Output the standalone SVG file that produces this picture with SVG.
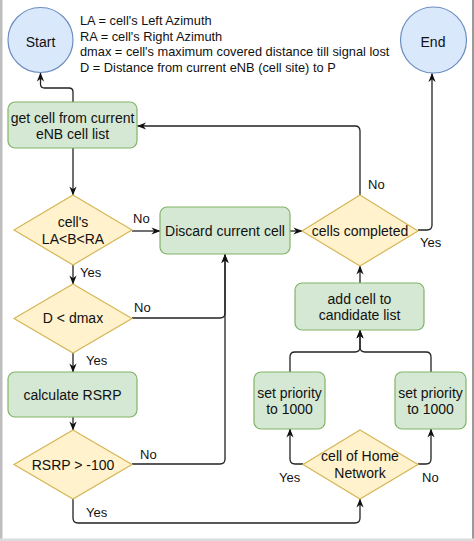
<svg xmlns="http://www.w3.org/2000/svg" width="474" height="541" viewBox="0 0 474 541">
<defs>
<marker id="arr" viewBox="0 0 10 8" refX="9.5" refY="4" markerWidth="9" markerHeight="7.5" markerUnits="userSpaceOnUse" orient="auto">
<path d="M0,0 L10,4 L0,8 L3,4 Z" fill="#111"/>
</marker>
<style>
.proc{fill:#d5e8d4;stroke:#82b366;stroke-width:1.2}
.dec{fill:#fff2cc;stroke:#d6b656;stroke-width:1.2}
.term{fill:#dae8fc;stroke:#6c8ebf;stroke-width:1.2}
.t{font-family:"Liberation Sans",Arial,sans-serif;font-size:14px;fill:#111;text-anchor:middle}
.lbl{font-family:"Liberation Sans",Arial,sans-serif;font-size:13px;fill:#111}
.note{font-family:"Liberation Sans",Arial,sans-serif;font-size:12.8px;fill:#111}
.c{fill:none;stroke:#222;stroke-width:1.3;marker-end:url(#arr)}
</style>
</defs>
<rect x="0" y="0" width="474" height="541" fill="#ffffff"/>
<rect x="0" y="0" width="2.5" height="541" fill="#bdbdbd"/>
<rect x="472" y="0" width="2" height="541" fill="#9a9a9a"/>
<rect x="0" y="538.5" width="474" height="2.5" fill="#dcdcdc"/>

<g id="notes">
<text class="note" x="80" y="25">LA = cell's Left Azimuth</text>
<text class="note" x="80" y="40.5">RA = cell's Right Azimuth</text>
<text class="note" x="80" y="56">dmax = cell's maximum covered distance till signal lost</text>
<text class="note" x="80" y="71.5">D = Distance from current eNB (cell site) to P</text>
</g>

<g id="connectors">
<path class="c" d="M73,102 V92 Q73,88 69,88 H44.5 Q40.5,88 40.5,84 V73"/>
<path class="c" d="M360,195 V131 Q360,126 355,126 H137.5"/>
<path class="c" d="M73,148 V195"/>
<path class="c" d="M132,231 H160"/>
<path class="c" d="M73,265 V284"/>
<path class="c" d="M132,318 H220 Q225,318 225,313 V254.5"/>
<path class="c" d="M73,353 V372"/>
<path class="c" d="M73,417 V430"/>
<path class="c" d="M132,464 H220 Q225,464 225,459 V254.5"/>
<path class="c" d="M73,499 V518 Q73,523 78,523 H355 Q360,523 360,518 V499"/>
<path class="c" d="M303,464 H295 Q290,464 290,459 V429"/>
<path class="c" d="M418,464 H426 Q431,464 431,459 V429"/>
<path class="c" d="M290,372 V357 Q290,352 295,352 H355 Q360,352 360,347 V330"/>
<path class="c" d="M431,372 V357 Q431,352 426,352 H365 Q360,352 360,347 V330"/>
<path class="c" d="M360,283 V266"/>
<path class="c" d="M290,231 H302"/>
<path class="c" d="M418,230 H427 Q432,230 432,225 V73.5"/>
<text class="lbl" x="133" y="223">No</text>
<text class="lbl" x="80" y="277">Yes</text>
<text class="lbl" x="134" y="312">No</text>
<text class="lbl" x="86" y="365">Yes</text>
<text class="lbl" x="140" y="459">No</text>
<text class="lbl" x="86" y="517">Yes</text>
<text class="lbl" x="368" y="189">No</text>
<text class="lbl" x="420" y="247">Yes</text>
<text class="lbl" x="279" y="482">Yes</text>
<text class="lbl" x="422" y="482">No</text>
</g>

<g id="start">
<circle class="term" cx="40.5" cy="40" r="32.5"/>
<text class="t" x="40.5" y="46.5">Start</text>
</g>
<g id="end">
<circle class="term" cx="433.5" cy="40" r="33"/>
<text class="t" x="433" y="46.5">End</text>
</g>
<g id="getcell">
<rect class="proc" x="8" y="102" width="129" height="46" rx="7"/>
<text class="t" x="72.5" y="123">get cell from current</text>
<text class="t" x="72.5" y="139">eNB cell list</text>
</g>
<g id="azimuth">
<polygon class="dec" points="73,195 132,230 73,265 14,230"/>
<text class="t" x="73" y="227">cell's</text>
<text class="t" x="73" y="244">LA&lt;B&lt;RA</text>
</g>
<g id="discard">
<rect class="proc" x="160" y="207" width="130" height="47" rx="7"/>
<text class="t" x="225" y="236">Discard current cell</text>
</g>
<g id="completed">
<polygon class="dec" points="360,195 418,231 360,266 302,231"/>
<text class="t" x="360" y="236">cells completed</text>
</g>
<g id="dist">
<polygon class="dec" points="73,284 132,318.5 73,353 14,318.5"/>
<text class="t" x="73" y="323">D &lt; dmax</text>
</g>
<g id="calc">
<rect class="proc" x="8" y="372" width="129" height="45" rx="7"/>
<text class="t" x="72.5" y="399.5">calculate RSRP</text>
</g>
<g id="rsrp">
<polygon class="dec" points="73,430 132,464.5 73,499 14,464.5"/>
<text class="t" x="73" y="470">RSRP &gt; -100</text>
</g>
<g id="addcell">
<rect class="proc" x="295" y="283" width="129" height="47" rx="7"/>
<text class="t" x="359.5" y="304">add cell to</text>
<text class="t" x="359.5" y="320">candidate list</text>
</g>
<g id="prioLeft">
<rect class="proc" x="254" y="372" width="71" height="57" rx="7"/>
<text class="t" x="289.5" y="397.5">set priority</text>
<text class="t" x="289.5" y="413.5">to 1000</text>
</g>
<g id="prioRight">
<rect class="proc" x="395" y="372" width="71" height="57" rx="7"/>
<text class="t" x="430.5" y="397.5">set priority</text>
<text class="t" x="430.5" y="413.5">to 1000</text>
</g>
<g id="home">
<polygon class="dec" points="360,430 418,464.5 360,499 303,464.5"/>
<text class="t" x="360" y="461">cell of Home</text>
<text class="t" x="360" y="477.5">Network</text>
</g>
</svg>
